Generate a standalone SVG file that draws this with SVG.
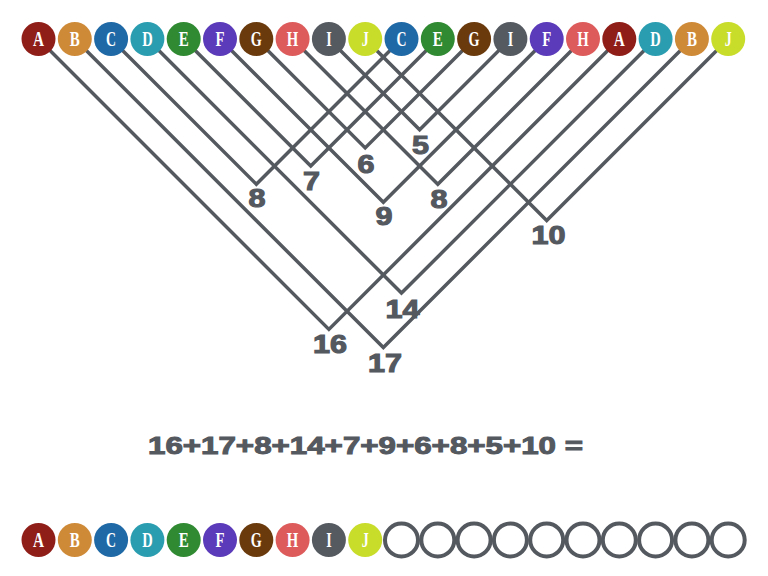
<svg xmlns="http://www.w3.org/2000/svg" width="768" height="576" viewBox="0 0 768 576">
<style>
.ln{fill:none;stroke:#54585f;stroke-width:3.5;stroke-linejoin:miter}
.lt{font-family:"Liberation Serif","Times New Roman",serif;font-weight:bold;font-size:20px;fill:#ffffff;text-anchor:middle}
.num{font-family:"Liberation Sans",Arial,sans-serif;font-weight:bold;font-size:26px;fill:#54585f;stroke:#54585f;stroke-width:1.1;text-anchor:middle}
.eq{font-family:"Liberation Sans",Arial,sans-serif;font-weight:bold;font-size:24px;fill:#54585f;stroke:#54585f;stroke-width:1}
.empty{fill:#ffffff;stroke:#54585f;stroke-width:4}
.cA{fill:#8f1d18}.cB{fill:#cf8a38}.cC{fill:#1f69a6}.cD{fill:#2a9db0}.cE{fill:#2f8a31}
.cF{fill:#5b3bb9}.cG{fill:#6a3a0d}.cH{fill:#dd5b5b}.cI{fill:#555a61}.cJ{fill:#c8dc2a}
</style>
<rect width="768" height="576" fill="#ffffff"/>
<g id="connectors">
<polyline class="ln" points="38.5,39 328.9,329.4 619.3,39"/>
<polyline class="ln" points="74.8,39 383.35,347.55 691.9,39"/>
<polyline class="ln" points="111.1,39 256.3,184.2 401.5,39"/>
<polyline class="ln" points="147.4,39 401.5,293.1 655.6,39"/>
<polyline class="ln" points="183.7,39 310.75,166.05 437.8,39"/>
<polyline class="ln" points="220,39 383.35,202.35 546.7,39"/>
<polyline class="ln" points="256.3,39 365.2,147.9 474.1,39"/>
<polyline class="ln" points="292.6,39 437.8,184.2 583,39"/>
<polyline class="ln" points="328.9,39 419.65,129.75 510.4,39"/>
<polyline class="ln" points="365.2,39 546.7,220.5 728.2,39"/>
<text class="num" x="330" y="353" textLength="34" lengthAdjust="spacingAndGlyphs">16</text>
<text class="num" x="385" y="372" textLength="34" lengthAdjust="spacingAndGlyphs">17</text>
<text class="num" x="257" y="207" textLength="17" lengthAdjust="spacingAndGlyphs">8</text>
<text class="num" x="402.5" y="318" textLength="34" lengthAdjust="spacingAndGlyphs">14</text>
<text class="num" x="311.5" y="190" textLength="17" lengthAdjust="spacingAndGlyphs">7</text>
<text class="num" x="384" y="225" textLength="17" lengthAdjust="spacingAndGlyphs">9</text>
<text class="num" x="366" y="173" textLength="17" lengthAdjust="spacingAndGlyphs">6</text>
<text class="num" x="439" y="208" textLength="17" lengthAdjust="spacingAndGlyphs">8</text>
<text class="num" x="420.5" y="154" textLength="17" lengthAdjust="spacingAndGlyphs">5</text>
<text class="num" x="548.5" y="244" textLength="34" lengthAdjust="spacingAndGlyphs">10</text>
</g>
<g id="top-row">
<g id="t0"><circle class="cA" cx="38.5" cy="39" r="17"/><text class="lt" x="38.5" y="46" textLength="11" lengthAdjust="spacingAndGlyphs">A</text></g>
<g id="t1"><circle class="cB" cx="74.8" cy="39" r="17"/><text class="lt" x="74.8" y="46" textLength="10" lengthAdjust="spacingAndGlyphs">B</text></g>
<g id="t2"><circle class="cC" cx="111.1" cy="39" r="17"/><text class="lt" x="111.1" y="46" textLength="10" lengthAdjust="spacingAndGlyphs">C</text></g>
<g id="t3"><circle class="cD" cx="147.4" cy="39" r="17"/><text class="lt" x="147.4" y="46" textLength="10.5" lengthAdjust="spacingAndGlyphs">D</text></g>
<g id="t4"><circle class="cE" cx="183.7" cy="39" r="17"/><text class="lt" x="183.7" y="46" textLength="10" lengthAdjust="spacingAndGlyphs">E</text></g>
<g id="t5"><circle class="cF" cx="220" cy="39" r="17"/><text class="lt" x="220" y="46" textLength="9" lengthAdjust="spacingAndGlyphs">F</text></g>
<g id="t6"><circle class="cG" cx="256.3" cy="39" r="17"/><text class="lt" x="256.3" y="46" textLength="11" lengthAdjust="spacingAndGlyphs">G</text></g>
<g id="t7"><circle class="cH" cx="292.6" cy="39" r="17"/><text class="lt" x="292.6" y="46" textLength="11.5" lengthAdjust="spacingAndGlyphs">H</text></g>
<g id="t8"><circle class="cI" cx="328.9" cy="39" r="17"/><text class="lt" x="328.9" y="46" textLength="5.5" lengthAdjust="spacingAndGlyphs">I</text></g>
<g id="t9"><circle class="cJ" cx="365.2" cy="39" r="17"/><text class="lt" x="365.2" y="46" textLength="7" lengthAdjust="spacingAndGlyphs">J</text></g>
<g id="t10"><circle class="cC" cx="401.5" cy="39" r="17"/><text class="lt" x="401.5" y="46" textLength="10" lengthAdjust="spacingAndGlyphs">C</text></g>
<g id="t11"><circle class="cE" cx="437.8" cy="39" r="17"/><text class="lt" x="437.8" y="46" textLength="10" lengthAdjust="spacingAndGlyphs">E</text></g>
<g id="t12"><circle class="cG" cx="474.1" cy="39" r="17"/><text class="lt" x="474.1" y="46" textLength="11" lengthAdjust="spacingAndGlyphs">G</text></g>
<g id="t13"><circle class="cI" cx="510.4" cy="39" r="17"/><text class="lt" x="510.4" y="46" textLength="5.5" lengthAdjust="spacingAndGlyphs">I</text></g>
<g id="t14"><circle class="cF" cx="546.7" cy="39" r="17"/><text class="lt" x="546.7" y="46" textLength="9" lengthAdjust="spacingAndGlyphs">F</text></g>
<g id="t15"><circle class="cH" cx="583" cy="39" r="17"/><text class="lt" x="583" y="46" textLength="11.5" lengthAdjust="spacingAndGlyphs">H</text></g>
<g id="t16"><circle class="cA" cx="619.3" cy="39" r="17"/><text class="lt" x="619.3" y="46" textLength="11" lengthAdjust="spacingAndGlyphs">A</text></g>
<g id="t17"><circle class="cD" cx="655.6" cy="39" r="17"/><text class="lt" x="655.6" y="46" textLength="10.5" lengthAdjust="spacingAndGlyphs">D</text></g>
<g id="t18"><circle class="cB" cx="691.9" cy="39" r="17"/><text class="lt" x="691.9" y="46" textLength="10" lengthAdjust="spacingAndGlyphs">B</text></g>
<g id="t19"><circle class="cJ" cx="728.2" cy="39" r="17"/><text class="lt" x="728.2" y="46" textLength="7" lengthAdjust="spacingAndGlyphs">J</text></g>
</g>
<g id="equation">
<text class="eq" x="148" y="454" textLength="435" lengthAdjust="spacingAndGlyphs">16+17+8+14+7+9+6+8+5+10 =</text>
</g>
<g id="bottom-row">
<g id="b0"><circle class="cA" cx="38.5" cy="540" r="17"/><text class="lt" x="38.5" y="547" textLength="11" lengthAdjust="spacingAndGlyphs">A</text></g>
<g id="b1"><circle class="cB" cx="74.8" cy="540" r="17"/><text class="lt" x="74.8" y="547" textLength="10" lengthAdjust="spacingAndGlyphs">B</text></g>
<g id="b2"><circle class="cC" cx="111.1" cy="540" r="17"/><text class="lt" x="111.1" y="547" textLength="10" lengthAdjust="spacingAndGlyphs">C</text></g>
<g id="b3"><circle class="cD" cx="147.4" cy="540" r="17"/><text class="lt" x="147.4" y="547" textLength="10.5" lengthAdjust="spacingAndGlyphs">D</text></g>
<g id="b4"><circle class="cE" cx="183.7" cy="540" r="17"/><text class="lt" x="183.7" y="547" textLength="10" lengthAdjust="spacingAndGlyphs">E</text></g>
<g id="b5"><circle class="cF" cx="220" cy="540" r="17"/><text class="lt" x="220" y="547" textLength="9" lengthAdjust="spacingAndGlyphs">F</text></g>
<g id="b6"><circle class="cG" cx="256.3" cy="540" r="17"/><text class="lt" x="256.3" y="547" textLength="11" lengthAdjust="spacingAndGlyphs">G</text></g>
<g id="b7"><circle class="cH" cx="292.6" cy="540" r="17"/><text class="lt" x="292.6" y="547" textLength="11.5" lengthAdjust="spacingAndGlyphs">H</text></g>
<g id="b8"><circle class="cI" cx="328.9" cy="540" r="17"/><text class="lt" x="328.9" y="547" textLength="5.5" lengthAdjust="spacingAndGlyphs">I</text></g>
<g id="b9"><circle class="cJ" cx="365.2" cy="540" r="17"/><text class="lt" x="365.2" y="547" textLength="7" lengthAdjust="spacingAndGlyphs">J</text></g>
<g id="b10"><circle class="empty" cx="401.5" cy="540" r="16.5"/></g>
<g id="b11"><circle class="empty" cx="437.8" cy="540" r="16.5"/></g>
<g id="b12"><circle class="empty" cx="474.1" cy="540" r="16.5"/></g>
<g id="b13"><circle class="empty" cx="510.4" cy="540" r="16.5"/></g>
<g id="b14"><circle class="empty" cx="546.7" cy="540" r="16.5"/></g>
<g id="b15"><circle class="empty" cx="583" cy="540" r="16.5"/></g>
<g id="b16"><circle class="empty" cx="619.3" cy="540" r="16.5"/></g>
<g id="b17"><circle class="empty" cx="655.6" cy="540" r="16.5"/></g>
<g id="b18"><circle class="empty" cx="691.9" cy="540" r="16.5"/></g>
<g id="b19"><circle class="empty" cx="728.2" cy="540" r="16.5"/></g>
</g>
</svg>
